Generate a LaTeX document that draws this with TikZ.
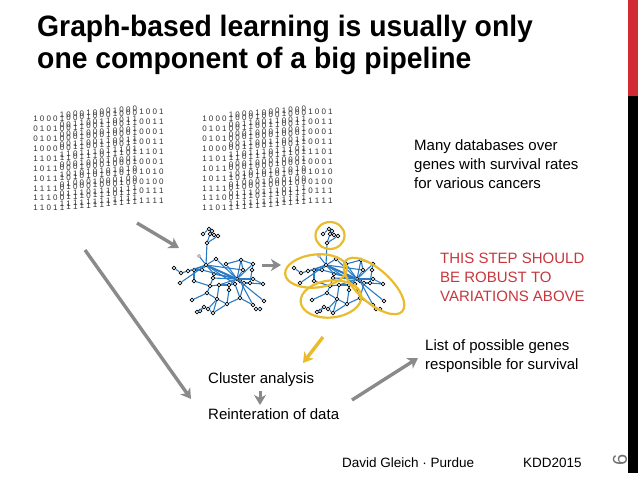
\documentclass[tikz,border=0pt]{standalone}
\usepackage{fontspec}
\setmainfont{Liberation Sans}
\newfontfamily\titlefont{Liberation Sans}[FakeStretch=0.96]
\usepackage{tikz}
\usetikzlibrary{arrows.meta,positioning}
\definecolor{NetBlue}{HTML}{2A7BC4}
\definecolor{ClusterYellow}{HTML}{E9BC2E}
\definecolor{ArrowGray}{HTML}{8A8A8A}
\definecolor{BarRed}{HTML}{D22B33}
\definecolor{WarnRed}{HTML}{C8363D}
\definecolor{PageGray}{HTML}{707070}

\begin{document}
\begin{tikzpicture}[x=1pt, y=-1pt,
  netedge/.style={draw=NetBlue, line width=1.1pt},
  netnode/.style={circle, draw=black, fill=white, line width=0.7pt,
                  inner sep=0pt, minimum size=3.6pt},
  cluster/.style={draw=ClusterYellow, line width=2.2pt},
  flow/.style={draw=#1, line width=3.4pt,
               -{Stealth[length=10pt, width=12pt, inset=3pt]}},
  flow/.default=ArrowGray,
  bodytext/.style={font=\fontsize{15}{19}\selectfont, inner sep=0pt},
  foot/.style={font=\fontsize{13.5}{16}\selectfont, inner sep=0pt},
  digit/.style={font=\fontsize{8}{8}\selectfont, text=black!80, inner sep=0pt}
]
\useasboundingbox (0,0) rectangle (638,479);

% Slide bar on the right
\fill[BarRed] (628,0) rectangle (638,96);
\fill[black] (628,96) rectangle (638,473);

% Title
\node[font=\titlefont\bfseries\fontsize{29.5}{32}\selectfont, inner sep=0pt,
      anchor=base west] (title1) at (37,36) {Graph-based learning is usually only};
\node[font=\titlefont\bfseries\fontsize{29.5}{32}\selectfont, inner sep=0pt,
      anchor=base west] (title2) at (37,68) {one component of a big pipeline};

% Two binary data tables
\foreach \bx in {0,169}{
  \foreach \row [count=\r from 0] in {
      {1,0,0,0,1,0,0,0,1,0,0,0,1,0,0,0,1,0,0,1},
      {0,1,0,1,0,0,1,1,0,0,1,1,0,0,1,1,0,0,1,1},
      {0,1,0,1,0,0,0,1,0,0,0,1,0,0,0,1,0,0,0,1},
      {1,0,0,0,0,0,1,1,0,0,1,1,0,0,1,1,0,0,1,1},
      {1,1,0,1,1,1,0,1,1,1,0,1,1,1,0,1,1,1,0,1},
      {1,0,1,1,0,0,0,1,0,0,0,1,0,0,0,1,0,0,0,1},
      {1,0,1,1,1,0,1,0,1,0,1,0,1,0,1,0,1,0,1,0},
      {1,1,1,1,0,1,0,0,0,1,0,0,0,1,0,0,0,1,0,0},
      {1,1,1,0,0,1,1,1,0,1,1,1,0,1,1,1,0,1,1,1},
      {1,1,0,1,1,1,1,1,1,1,1,1,1,1,1,1,1,1,1,1}}{
    \foreach \d [count=\c] in \row {
      \pgfmathsetmacro\sh{min(max(\c-4,0),13)*0.54}
      \node[digit] (bit\bx-\r-\c) at ({\bx+35.5+6.63*(\c-1)},{119+9.9*\r-\sh}) {\d};
      \ifnum\c>4 \ifnum\c<17
        \node[digit] (ghost\bx-\r-\c) at ({\bx+35.5+6.63*(\c-1)},{115.5+9.9*\r-\sh}) {\d};
      \fi\fi
    }
  }
}

% Gene network, drawn twice (raw and clustered)
\foreach \gx/\g in {0/L,120/R}{
  \begin{scope}[xshift=\gx]
    \foreach \n/\px/\py in {t1/209/229, t2/212/231, t3/203/234, t4/214/235,
        t5/218/236, t6/210/234, u/207/243, a/206/265, c1/216/259, c2/226/264,
        c3/241/260, c4/253/264, l1/174/268, l2/181/273, l3/188/271, l4/194/270,
        l5/202/270, l6/180/283, l7/194/281, m1/214/274, m2/213/278, d1/243/270,
        d2/252/270, b/237/279, b2/240/281, b3/235/284, b4/244/283, b5/250/283,
        b6/253/279, r1/263/284, e1/219/285, e2/229/285, e3/210/286, e4/229/290,
        f1/207/293, f2/217/299, f3/227/304, f4/240/298, f5/253/305, f6/264/301,
        g1/192/300, g2/204/307, g3/208/309, g4/197/312, g5/200/311, g6/213/313,
        h1/256/309, h2/260/309}
      \node[netnode] (\g\n) at (\px,\py) {};
    \node[netnode, draw=black!50, minimum size=3pt] (\g p) at (199,256) {};
    \foreach \s/\t in {t3/t1, t1/t2, t2/t4, t4/t5, t2/t6, t6/u, t5/u, u/a,
        p/a, a/l5, a/l4, a/l3, l1/l2, l2/l3, l3/l4, l4/l5, a/l6, l4/l7, a/c1,
        a/m1, a/b2, a/b3, a/b4, a/d1, l5/b, c1/b, c2/b, c3/b, c4/b, c2/c3,
        c3/c4, c3/d1, c4/d2, d1/b, d2/b5, b/b2, b/b6, b6/r1, b5/r1, b4/b5,
        b/f6, b/e2, b/e1, m1/b, m2/b, m1/m2, m2/e3, e3/e1, e1/e2, e2/b3,
        e3/f1, f1/f2, e1/f2, e2/e4, e4/f3, f2/f3, f1/g1, f2/g3, g3/g6, g2/g3,
        g4/g5, g5/g2, g4/g2, g6/f2, f3/g6, f3/f4, f4/b3, f4/f5, b4/f4, l7/e3,
        b2/f5, h1/h2}
      \draw[netedge] (\g\s) -- (\g\t);
    \draw[netedge, line width=1.8pt] (\g a) -- (\g b);
  \end{scope}
}

% Clusters found in the second copy
\draw[cluster] (330,235.5) ellipse [x radius=14.5pt, y radius=13.5pt];
\draw[cluster, rotate around={6:(316,271)}] (316,271) ellipse [x radius=31pt, y radius=16.5pt];
\draw[cluster, rotate around={6:(331,299)}] (331,299) ellipse [x radius=30.5pt, y radius=18.5pt];
\draw[cluster, rotate around={-42:(374,286)}] (374,286) ellipse [x radius=38pt, y radius=16.5pt];

% Pipeline texts
\node[bodytext, anchor=north west, align=left] (dbtext) at (414,139)
  {Many databases over\\genes with survival rates\\for various cancers};
\node[bodytext, text=WarnRed, anchor=north west, align=left] (warn) at (440,252.5)
  {THIS STEP SHOULD\\BE ROBUST TO\\VARIATIONS ABOVE};
\node[bodytext, anchor=base west] (clus) at (208,383) {Cluster analysis};
\node[bodytext, anchor=base west] (reint) at (208,419) {Reinteration of data};
\node[bodytext, anchor=north west, align=left] (genes) at (425,339)
  {List of possible genes\\responsible for survival};

% Pipeline arrows
\coordinate (a1s) at (137,223);  \coordinate (a1e) at (179,248);
\coordinate (a2s) at (85,250);   \coordinate (a2e) at (191,399);
\coordinate (a3s) at (262,265);  \coordinate (a3e) at (281,265);
\coordinate (a4s) at (323,337);  \coordinate (a4e) at (303,363);
\coordinate (a5s) at (260,391);  \coordinate (a5e) at (260,405);
\coordinate (a6s) at (352,400);  \coordinate (a6e) at (418,358);
\draw[flow] (a1s) -- (a1e);
\draw[flow] (a2s) -- (a2e);
\draw[flow, line width=3pt] (a3s) -- (a3e);
\draw[flow=ClusterYellow] (a4s) -- (a4e);
\draw[flow, line width=3pt] (a5s) -- (a5e);
\draw[flow] (a6s) -- (a6e);

% Footer
\node[foot, anchor=base west] (author) at (342,467) {David Gleich · Purdue};
\node[foot, anchor=base west] (venue) at (523,467) {KDD2015};
\node[font=\fontsize{20}{20}\selectfont, text=PageGray, rotate=90, inner sep=0pt]
  (pagenum) at (620,460) {6};
\end{tikzpicture}
\end{document}
